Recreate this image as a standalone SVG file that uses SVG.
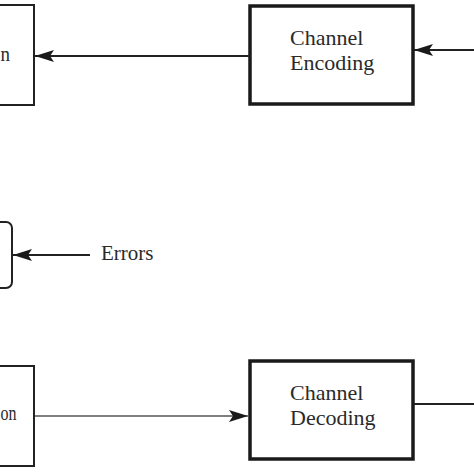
<svg xmlns="http://www.w3.org/2000/svg" width="474" height="474" viewBox="0 0 474 474">
<style>
.thin{fill:#fff;stroke:#222;stroke-width:2}
.thick{fill:#fff;stroke:#1a1a1a;stroke-width:3.5}
.lbl{font-family:"Liberation Serif","Times New Roman",serif;font-size:22px;fill:#2a2a2a}
.conn{stroke:#222;stroke-width:2;fill:none}
.conn2{stroke:#555;stroke-width:1.6;fill:none}
</style>
<defs>
<marker id="ah" markerUnits="userSpaceOnUse" markerWidth="20" markerHeight="13" viewBox="0 0 20 13" refX="19" refY="6.5" orient="auto">
<path d="M0,0.5 L19,6.5 L0,12.5 L4,6.5 Z" fill="#1a1a1a"/>
</marker>
</defs>
<g id="modulation">
<rect class="thin" x="-20" y="5" width="54" height="100"/>
<text class="lbl" x="0.5" y="61" textLength="9.5" lengthAdjust="spacingAndGlyphs">n</text>
</g>
<g id="channel-encoding">
<rect class="thick" x="250" y="6" width="163" height="98"/>
<text class="lbl" x="290" y="45">Channel</text>
<text class="lbl" x="290" y="70">Encoding</text>
</g>
<g id="channel">
<rect class="thin" x="-20" y="222" width="32" height="66" rx="6"/>
</g>
<g id="errors">
<text class="lbl" x="101" y="260" style="font-size:21px">Errors</text>
</g>
<g id="demodulation">
<rect class="thin" x="-20" y="366" width="54" height="100"/>
<text class="lbl" x="0.5" y="420" textLength="16" lengthAdjust="spacingAndGlyphs">on</text>
</g>
<g id="channel-decoding">
<rect class="thick" x="250" y="361" width="163" height="98"/>
<text class="lbl" x="290" y="400">Channel</text>
<text class="lbl" x="290" y="425">Decoding</text>
</g>
<g id="connectors">
<line class="conn" x1="250" y1="56" x2="35" y2="56" marker-end="url(#ah)"/>
<line class="conn" x1="474" y1="50" x2="414" y2="50" marker-end="url(#ah)"/>
<line class="conn" x1="90" y1="255" x2="13" y2="255" marker-end="url(#ah)"/>
<line class="conn2" x1="35" y1="416" x2="248" y2="416" marker-end="url(#ah)"/>
<line class="conn" x1="414" y1="404" x2="474" y2="404"/>
</g>
</svg>
